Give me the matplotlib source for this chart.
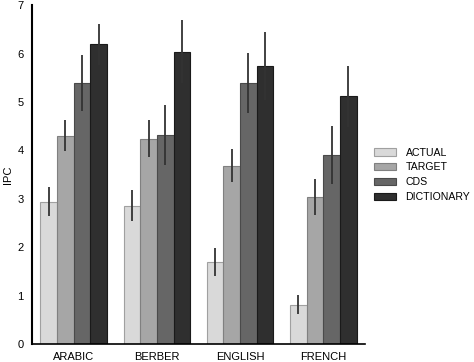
import numpy as np
import matplotlib.pyplot as plt

plt.rcParams['font.family'] = ['Liberation Sans', 'DejaVu Sans']

languages = ["ARABIC", "BERBER", "ENGLISH", "FRENCH"]
series = ["ACTUAL", "TARGET", "CDS", "DICTIONARY"]
actual = [2.94, 2.86, 1.70, 0.81]
target = [4.30, 4.24, 3.68, 3.04]
cds = [5.40, 4.32, 5.39, 3.90]
dictionary = [6.19, 6.04, 5.75, 5.12]
actual_err = [0.30, 0.32, 0.29, 0.20]
target_err = [0.32, 0.38, 0.34, 0.37]
cds_err = [0.58, 0.62, 0.62, 0.60]
dictionary_err = [0.42, 0.65, 0.70, 0.63]

values = [actual, target, cds, dictionary]
errors = [actual_err, target_err, cds_err, dictionary_err]
colors = ["#d9d9d9", "#a6a6a6", "#666666", "#2f2f2f"]
edges = ["#a0a0a0", "#808080", "#4a4a4a", "#1a1a1a"]

fig = plt.figure(figsize=(4.74, 3.62), dpi=100)
ax = fig.add_axes([0.0675, 0.0497, 0.7025, 0.936])

x = np.arange(len(languages))
w = 0.2
for i in range(4):
    ax.bar(x - 0.3 + i * w, values[i], w, color=colors[i], edgecolor=edges[i],
           linewidth=0.8, label=series[i])
    ax.errorbar(x - 0.3 + i * w, values[i], yerr=errors[i], fmt='none',
                ecolor="#333333", elinewidth=1.3, capsize=0)

ax.set_xlim(-0.5, 3.5)
ax.set_ylim(0, 7)
ax.set_xticks(x)
ax.set_xticklabels(languages, fontsize=8)
ax.set_yticks(range(8))
ax.set_yticklabels([str(v) for v in range(8)], fontsize=8)
ax.tick_params(length=0, pad=6)
ax.set_ylabel("IPC", fontsize=8, labelpad=3)
for s in ["top", "right"]:
    ax.spines[s].set_visible(False)
ax.spines["left"].set_linewidth(1.5)
ax.spines["bottom"].set_linewidth(1.2)

fig.legend(loc="center left", bbox_to_anchor=(0.770, 0.517), frameon=False,
           fontsize=7.6, handlelength=2.0, handleheight=0.7, labelspacing=0.45,
           handletextpad=0.95)

fig.savefig("out.png", dpi=100)
